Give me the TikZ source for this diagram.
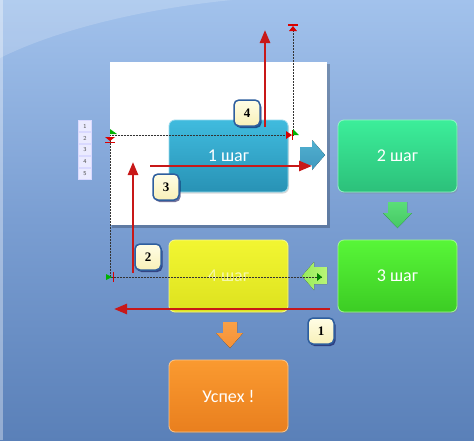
\documentclass[tikz,border=0pt]{standalone}
\usepackage{fontspec}
\setmainfont{Carlito}
\newfontfamily\labfont{Liberation Serif}
\usetikzlibrary{arrows.meta,shadows}
\definecolor{bgtop}{HTML}{A2C2EC}
\definecolor{bgmid}{HTML}{7A9ED2}
\definecolor{bgbot}{HTML}{5A80B8}
\definecolor{redarr}{HTML}{C81818}
\definecolor{labborder}{HTML}{2E5E9E}
\definecolor{s1t}{HTML}{40BBDE}\definecolor{s1b}{HTML}{2892B5}
\definecolor{s2t}{HTML}{3CEE9A}\definecolor{s2b}{HTML}{2CC07A}
\definecolor{s3t}{HTML}{58F638}\definecolor{s3b}{HTML}{3CCC24}
\definecolor{s4t}{HTML}{F2F632}\definecolor{s4b}{HTML}{DDE21E}
\definecolor{s5t}{HTML}{FA9A30}\definecolor{s5b}{HTML}{E97F1E}
\definecolor{labt}{HTML}{FFFDE6}\definecolor{labb}{HTML}{F8F0B8}
\definecolor{ar1t}{HTML}{50B0D0}\definecolor{ar1b}{HTML}{4098BE}
\definecolor{ar2t}{HTML}{5ADE78}\definecolor{ar2b}{HTML}{46C864}
\definecolor{ar3l}{HTML}{96EB5A}\definecolor{ar3r}{HTML}{B9F578}
\definecolor{ar4t}{HTML}{FAA046}\definecolor{ar4b}{HTML}{F59137}
\begin{document}
\begin{tikzpicture}[x=1pt,y=-1pt,
  stepbox/.style 2 args={rounded corners=6pt, minimum width=119pt, minimum height=72pt,
    top color=#1, bottom color=#2, draw=white!45!#1, line width=0.8pt, text=white,
    font=\fontsize{18}{20}\selectfont, inner sep=0pt,
    drop shadow={shadow xshift=1pt, shadow yshift=-1.5pt, opacity=0.3}},
  numlab/.style={rounded corners=5pt, minimum width=26pt, minimum height=26pt, inner sep=0pt,
    top color=labt, bottom color=labb, draw=labborder, line width=1.5pt,
    font=\labfont\bfseries\fontsize{13}{14}\selectfont,
    drop shadow={shadow xshift=1.5pt, shadow yshift=-2pt, opacity=0.55, fill=black!70!blue}},
  rowcell/.style={minimum width=13pt, minimum height=11pt, inner sep=0pt, fill=blue!8!white,
    draw=blue!15!white, line width=0.4pt, font=\sffamily\fontsize{6}{6}\selectfont, text=black!70},
  redarrow/.style={draw=redarr, line width=2.6pt, -{Triangle[length=13pt,width=10pt]}},
  dots/.style={densely dotted, line width=0.5pt, black!80}
]
\useasboundingbox (0,0) rectangle (474,440);
% background
\fill[top color=bgtop, bottom color=bgmid] (0,0) rectangle (474,220);
\fill[top color=bgmid, bottom color=bgbot] (0,220) rectangle (474,441);
\fill[white,opacity=0.18] (0,0) -- (232,0) .. controls (150,8) and (60,28) .. (0,58) -- cycle;
\fill[white,opacity=0.35] (0,0) rectangle (3,440);
% row numbers
\foreach \i in {1,...,5} \node[rowcell] (r\i) at (85,114+12*\i) {\i};
% white slide
\fill[black,opacity=0.22] (112,64) rectangle (330,228);
\node[fill=white, minimum width=217pt, minimum height=163pt, inner sep=0pt] (slide) at (218.5,143.5) {};
% block arrows
\fill[top color=ar1t, bottom color=ar1b] (300,147) -- (312,147) -- (312,140) -- (325,155) -- (312,170) -- (312,165) -- (300,165) -- cycle;
\fill[top color=ar2t, bottom color=ar2b] (388,202) -- (407,202) -- (407,213) -- (412,213) -- (397.5,228) -- (383,213) -- (388,213) -- cycle;
\fill[left color=ar3l, right color=ar3r] (327,267) -- (314,267) -- (314,262) -- (302,276) -- (314,290) -- (314,284) -- (327,284) -- cycle;
\fill[top color=ar4t, bottom color=ar4b] (223,322) -- (237,322) -- (237,333) -- (243,333) -- (230,348) -- (216,333) -- (223,333) -- cycle;
% step boxes
\node[stepbox={s1t}{s1b}] (s1) at (228.5,156) {1 шаг};
\node[stepbox={s2t}{s2b}] (s2) at (397.5,156) {2 шаг};
\node[stepbox={s3t}{s3b}] (s3) at (397.5,276) {3 шаг};
\node[stepbox={s4t}{s4b}, text opacity=0.6] (s4) at (228.5,276) {4 шаг};
\node[stepbox={s5t}{s5b}] (s5) at (228.5,396) {Успех !};
% dotted guides
\coordinate (g1) at (110,135); \coordinate (g2) at (293,135);
\coordinate (g3) at (110,277); \coordinate (g4) at (322,277);
\coordinate (g5) at (293,28);
\draw[dots] (g1) -- (g2);
\draw[dots] (g1) -- (g3) -- (g4);
\draw[dots] (g2) -- (g5);
% markers
\fill[green!70!black] (110,129) -- (117,134) -- (110,134) -- cycle;
\fill[red!85!black] (105,137) -- (115,137) -- (110,141) -- cycle;
\draw[red!85!black,line width=1pt] (105,142) -- (115,142);
\fill[red!85!black] (286,131) -- (292,135) -- (286,139) -- cycle;
\draw[red!85!black,line width=1pt] (292,130) -- (292,140);
\fill[green!70!black] (293,129) -- (299,135) -- (293,135) -- cycle;
\draw[red!85!black,line width=1.2pt] (288,25) -- (298,25);
\fill[red!85!black] (289,31) -- (297,31) -- (293,26) -- cycle;
\fill[green!70!black] (106,274) -- (112,277) -- (106,280) -- cycle;
\draw[red!85!black,line width=1pt] (113,272) -- (113,282);
\fill[green!50!black] (317,273) -- (322,277) -- (317,281) -- cycle;
% red arrows
\coordinate (a1s) at (330,309); \coordinate (a1e) at (114,309);
\coordinate (a2s) at (133,273); \coordinate (a2e) at (133,162);
\coordinate (a3s) at (150,166); \coordinate (a3e) at (312,166);
\coordinate (a4s) at (265,127); \coordinate (a4e) at (265,30);
\draw[redarrow] (a1s) -- (a1e);
\draw[redarrow] (a2s) -- (a2e);
\draw[redarrow] (a3s) -- (a3e);
\draw[redarrow] (a4s) -- (a4e);
% number labels
\node[numlab] (l1) at (321,331) {1};
\node[numlab] (l2) at (148,257) {2};
\node[numlab] (l3) at (166,187) {3};
\node[numlab] (l4) at (247,113) {4};
\end{tikzpicture}
\end{document}
